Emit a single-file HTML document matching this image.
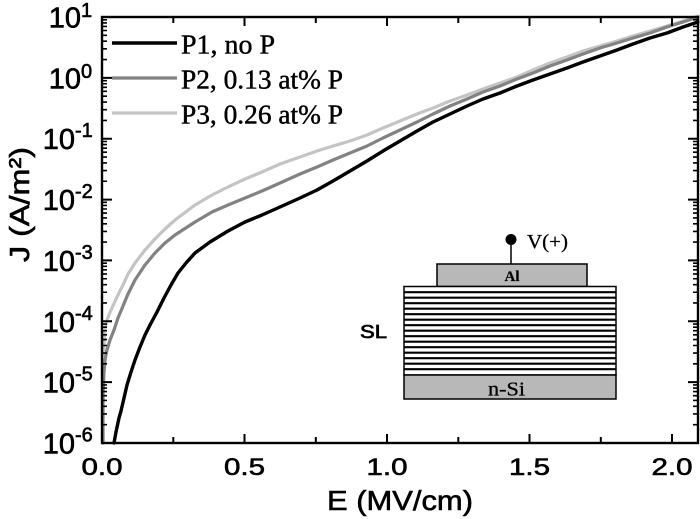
<!DOCTYPE html>
<html>
<head>
<meta charset="utf-8">
<style>
html,body{margin:0;padding:0;background:#fff;}
svg{display:block;}
.ax{font-family:"Liberation Sans",Arial,sans-serif;fill:#000;stroke:#000;stroke-width:0.6;}
.sr{font-family:"Liberation Serif","Times New Roman",serif;fill:#000;stroke:#000;stroke-width:0.45;}
</style>
</head>
<body>
<svg width="700" height="519" viewBox="0 0 700 519" xmlns="http://www.w3.org/2000/svg">
<rect width="700" height="519" fill="#fff"/>
<defs>
<g id="mtl" stroke="#000" stroke-width="1.6">
<path d="M0 -18.32h5M0 -29.04h5M0 -36.64h5M0 -42.54h5M0 -47.36h5M0 -51.43h5M0 -54.96h5M0 -58.07h5"/>
</g>
<g id="mtr" stroke="#000" stroke-width="1.6">
<path d="M0 -18.32h-5M0 -29.04h-5M0 -36.64h-5M0 -42.54h-5M0 -47.36h-5M0 -51.43h-5M0 -54.96h-5M0 -58.07h-5"/>
</g>
</defs>

<!-- curves -->
<g fill="none" stroke-linejoin="round" stroke-linecap="round">
<polyline stroke="#c4c4c4" stroke-width="3.2" points="103,443 103,400 103,370 104,345 105,330 107,320 111,310 117,297 123,285 128,274 135,263 145,250 155,239 165,229 175,220 195,205 212,195 228,187 245,179 262,172 280,164 300,157 317,151 333,146 350,141 367,135 383,128 400,121 417,114 433,108 450,101 467,95 483,89 500,83 517,77 533,70 550,63 567,57 583,51 600,46 617,41 633,36 650,31 667,26 683,21 698,16"/>
<polyline stroke="#828282" stroke-width="3.2" points="103,443 103,420 103,395 104,372 105,360 107,350 110,340 114,330 118,318 123,306 128,294 135,280 145,265 155,253 165,243 175,235 195,222 212,212 228,205 245,198 262,191 280,183 300,174 317,167 333,160 350,153 367,146 383,138 400,130 417,122 433,114 450,106 467,99 483,92 500,86 517,79 533,73 550,66 567,60 583,54 600,48 617,43 633,38 650,33 667,27 683,22 698,17"/>
<polyline stroke="#000" stroke-width="3.4" points="114,443 116,432 119,418 121,411 124,398 127,385 131,372 135,360 140,347 145,335 150,325 157,312 164,298 171,285 178,273 186,263 195,253 210,242 228,231 245,222 262,215 280,207 300,198 317,190 333,181 350,171 367,161 383,151 400,141 417,131 433,122 450,114 467,106 483,99 500,93 517,86 533,80 550,74 567,68 583,62 600,56 617,50 633,44 650,38 667,33 683,27 698,22"/>
</g>

<!-- frame -->
<rect x="102" y="17" width="596" height="426" fill="none" stroke="#000" stroke-width="2.4"/>

<!-- x ticks bottom & top -->
<g stroke="#000" stroke-width="2">
<path d="M244.5 443v-9M387 443v-9M529.5 443v-9M672 443v-9"/>
<path d="M173.3 443v-6M315.8 443v-6M458.3 443v-6M600.8 443v-6"/>
<path d="M244.5 17v9M387 17v9M529.5 17v9M672 17v9"/>
<path d="M173.3 17v6M315.8 17v6M458.3 17v6M600.8 17v6"/>
</g>
<!-- y major ticks -->
<g stroke="#000" stroke-width="2">
<path d="M102 382.14h10M102 321.29h10M102 260.43h10M102 199.57h10M102 138.71h10M102 77.86h10"/>
<path d="M698 382.14h-10M698 321.29h-10M698 260.43h-10M698 199.57h-10M698 138.71h-10M698 77.86h-10"/>
</g>
<!-- y minor ticks -->
<use href="#mtl" x="102" y="443"/>
<use href="#mtl" x="102" y="382.14"/>
<use href="#mtl" x="102" y="321.29"/>
<use href="#mtl" x="102" y="260.43"/>
<use href="#mtl" x="102" y="199.57"/>
<use href="#mtl" x="102" y="138.71"/>
<use href="#mtl" x="102" y="77.86"/>
<use href="#mtr" x="698" y="443"/>
<use href="#mtr" x="698" y="382.14"/>
<use href="#mtr" x="698" y="321.29"/>
<use href="#mtr" x="698" y="260.43"/>
<use href="#mtr" x="698" y="199.57"/>
<use href="#mtr" x="698" y="138.71"/>
<use href="#mtr" x="698" y="77.86"/>

<!-- y tick labels -->
<g class="ax" font-size="29">
<text x="81" y="27.5" text-anchor="end">10</text>
<text x="81" y="88.4" text-anchor="end">10</text>
<text x="75" y="149.2" text-anchor="end">10</text>
<text x="75" y="210.1" text-anchor="end">10</text>
<text x="75" y="270.9" text-anchor="end">10</text>
<text x="75" y="331.8" text-anchor="end">10</text>
<text x="75" y="392.6" text-anchor="end">10</text>
<text x="75" y="453.5" text-anchor="end">10</text>
</g>
<g class="ax" font-size="20">
<text x="81" y="17">1</text>
<text x="81" y="78">0</text>
<text x="75" y="137">-1</text>
<text x="75" y="198">-2</text>
<text x="75" y="259">-3</text>
<text x="75" y="320">-4</text>
<text x="75" y="380.5">-5</text>
<text x="75" y="441.5">-6</text>
</g>

<!-- x tick labels -->
<g class="ax" font-size="24">
<text x="81.5" y="475" textLength="41" lengthAdjust="spacingAndGlyphs">0.0</text>
<text x="224" y="475" textLength="41" lengthAdjust="spacingAndGlyphs">0.5</text>
<text x="366.5" y="475" textLength="41" lengthAdjust="spacingAndGlyphs">1.0</text>
<text x="509" y="475" textLength="41" lengthAdjust="spacingAndGlyphs">1.5</text>
<text x="651.5" y="475" textLength="41" lengthAdjust="spacingAndGlyphs">2.0</text>
</g>

<!-- axis titles -->
<text class="ax" x="327" y="510" font-size="28" textLength="146" lengthAdjust="spacingAndGlyphs">E (MV/cm)</text>
<text class="ax" font-size="28" transform="translate(29,262) rotate(-90)" x="0" y="0" textLength="115" lengthAdjust="spacingAndGlyphs">J (A/m²)</text>

<!-- legend -->
<g stroke-width="3.2">
<line x1="112" y1="43" x2="177" y2="43" stroke="#000" stroke-width="3.4"/>
<line x1="112" y1="78" x2="177" y2="78" stroke="#828282"/>
<line x1="112" y1="113" x2="177" y2="113" stroke="#c4c4c4"/>
</g>
<g class="sr" font-size="27">
<text x="181" y="53.3" textLength="94" lengthAdjust="spacingAndGlyphs">P1, no P</text>
<text x="181" y="88.3" textLength="162" lengthAdjust="spacingAndGlyphs">P2, 0.13 at% P</text>
<text x="181" y="123.3" textLength="162" lengthAdjust="spacingAndGlyphs">P3, 0.26 at% P</text>
</g>

<!-- inset -->
<g>
<line x1="511" y1="240" x2="511" y2="264" stroke="#000" stroke-width="1.5"/>
<circle cx="511" cy="239.5" r="5.5" fill="#000"/>
<text class="sr" x="527" y="248" font-size="20" textLength="41" lengthAdjust="spacingAndGlyphs" style="stroke-width:0.3">V(+)</text>
<rect x="437" y="264" width="150" height="22.5" fill="#b8b8b8" stroke="#000" stroke-width="1.5"/>
<text class="sr" x="512" y="281" font-size="15" font-weight="bold" text-anchor="middle" style="stroke-width:0.2">Al</text>
<rect x="404" y="286.5" width="212" height="88.5" fill="#fff" stroke="#000" stroke-width="1.5"/>
<g stroke="#000" stroke-width="2.1">
<path d="M404 292.2h212M404 297.7h212M404 303.2h212M404 308.7h212M404 314.2h212M404 319.7h212M404 325.2h212M404 330.7h212M404 336.2h212M404 341.7h212M404 347.2h212M404 352.7h212M404 358.2h212M404 363.7h212M404 369.2h212"/>
</g>
<rect x="404" y="375" width="212" height="24" fill="#b8b8b8" stroke="#000" stroke-width="1.5"/>
<text class="sr" x="488" y="395.5" font-size="20" textLength="37" lengthAdjust="spacingAndGlyphs" style="stroke-width:0.3">n-Si</text>
<text class="ax" x="360" y="338" font-size="18" textLength="27" lengthAdjust="spacingAndGlyphs" style="stroke-width:0.7">SL</text>
</g>
</svg>
</body>
</html>
